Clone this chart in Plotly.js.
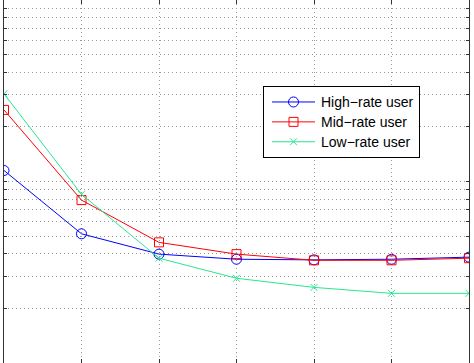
<!DOCTYPE html>
<html>
<head>
<meta charset="utf-8">
<script src="https://cdn.plot.ly/plotly-3.0.1.min.js"></script>
<style>
html,body{margin:0;padding:0;background:#fff;}
#chart{width:474px;height:363px;}
.legendtext{font-size:14px !important;}
#chart .legendlines path{d:path("M8,0h43");}
#chart .legendpoints path{transform:translate(29.5px,0px);}
</style>
</head>
<body>
<div id="chart"></div>
<script>
// Data (x positions = tick indices; y on log scale)
const xValues = [1, 2, 3, 4, 5, 6, 7];
const highRate = [11.5, 5.15, 3.98, 3.73, 3.70, 3.73, 3.83];
const midRate  = [24.8, 7.9, 4.62, 3.98, 3.68, 3.68, 3.78];
const lowRate  = [30.4, 8.5, 3.78, 2.93, 2.61, 2.42, 2.42];
const seriesNames = ['High\u2212rate user', 'Mid\u2212rate user', 'Low\u2212rate user'];

const yGridVals = [];
for (const d of [1, 10]) for (let k = 1; k <= 9; k++) yGridVals.push(k * d);
yGridVals.push(100);

const dotted = '1px,3px';
const traces = [
  {x: xValues, y: highRate, name: seriesNames[0], mode: 'lines+markers',
   line: {color: 'rgb(0,0,255)', width: 1},
   marker: {symbol: 'circle-open', size: 10, color: 'rgb(0,0,255)', line: {width: 1}}},
  {x: xValues, y: midRate, name: seriesNames[1], mode: 'lines+markers',
   line: {color: 'rgb(255,0,0)', width: 1},
   marker: {symbol: 'square-open', size: 9, color: 'rgb(255,0,0)', line: {width: 1}}},
  {x: xValues, y: lowRate, name: seriesNames[2], mode: 'lines+markers',
   line: {color: 'rgb(40,230,145)', width: 1},
   marker: {symbol: 'x-thin-open', size: 7, color: 'rgb(40,230,145)', line: {width: 1, color: 'rgb(40,230,145)'}}}
];

const layout = {
  width: 474, height: 363,
  margin: {l: 4, r: 5, t: 0, b: 0, pad: 0},
  paper_bgcolor: '#fff', plot_bgcolor: '#fff',
  showlegend: true,
  legend: {
    x: 0.557, y: 0.763, xanchor: 'left', yanchor: 'top',
    bgcolor: '#fff', bordercolor: '#000', borderwidth: 1,
    font: {family: 'Liberation Sans, Arial, sans-serif', size: 13, color: '#000'},
    itemwidth: 47,
    tracegroupgap: 0
  },
  xaxis: {
    range: [1, 7], tickvals: xValues, showticklabels: false,
    ticks: 'inside', ticklen: 4, tickcolor: '#333',
    showline: true, linecolor: '#333', linewidth: 1, mirror: 'ticks',
    showgrid: true, gridcolor: '#999', griddash: dotted, gridwidth: 1,
    zeroline: false
  },
  yaxis: {
    type: 'log', range: [0, 2], tickvals: yGridVals, showticklabels: false,
    ticks: 'inside', ticklen: 3, tickcolor: '#333',
    showline: true, linecolor: '#333', linewidth: 1, mirror: 'ticks',
    showgrid: true, gridcolor: '#999', griddash: dotted, gridwidth: 1,
    zeroline: false
  }
};

Plotly.newPlot('chart', traces, layout, {displayModeBar: false, staticPlot: true});
</script>
</body>
</html>
